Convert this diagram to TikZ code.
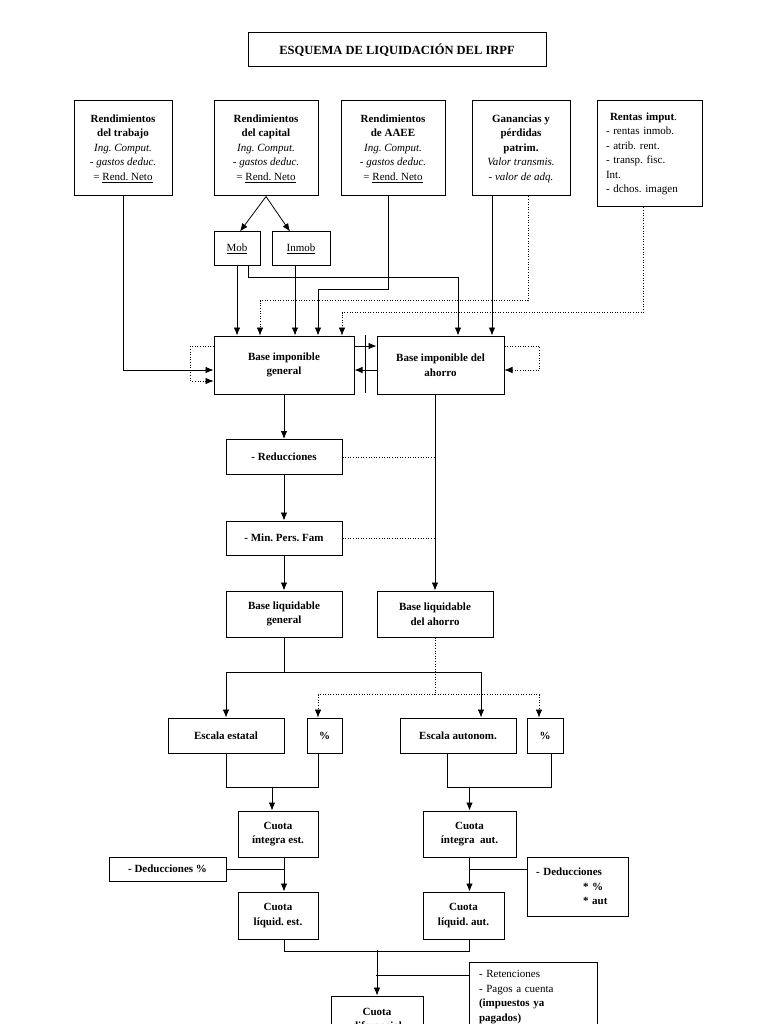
\documentclass[tikz,border=0pt]{standalone}
\usepackage{fontspec}
\setmainfont{Liberation Serif}
\usetikzlibrary{arrows.meta}
\usetikzlibrary{calc}
\frenchspacing
\tikzset{caja/.style = {draw, line width=1pt, align=center, inner sep=0, font=\fontsize{11}{14.5}\selectfont}}
\tikzset{cajab/.style = {caja, font=\fontsize{11}{14.5}\selectfont\bfseries}}
\tikzset{flecha/.style = {-{Latex[length=8pt,width=6.5pt]}}}
\tikzset{punteada/.style = {dotted, line width=0.6pt}}

\begin{document}
\begin{tikzpicture}[x=1pt, y=-1pt, line width=0.8pt]
      \useasboundingbox (0,0) rectangle (768,1024);
      \clip (0,0) rectangle (768,1024);

      \node [cajab, minimum width=298, minimum height=34, font=\fontsize{12.5}{15}\selectfont\bfseries] (titulo) at (397,50) {ESQUEMA DE LIQUIDACIÓN DEL IRPF};

      % fuentes de renta
      \node [caja, minimum width=98, minimum height=95] (trab) at (123,148.5) {\textbf{Rendimientos}\\\textbf{del trabajo}\\\textit{Ing. Comput.}\\\textit{- gastos deduc.}\\= \underline{Rend. Neto}};
      \node [caja, minimum width=104, minimum height=95] (cap) at (266,148.5) {\textbf{Rendimientos}\\\textbf{del capital}\\\textit{Ing. Comput.}\\\textit{- gastos deduc.}\\= \underline{Rend. Neto}};
      \node [caja, minimum width=104, minimum height=95] (aaee) at (393,148.5) {\textbf{Rendimientos}\\\textbf{de AAEE}\\\textit{Ing. Comput.}\\\textit{- gastos deduc.}\\= \underline{Rend. Neto}};
      \node [caja, minimum width=98, minimum height=95] (gan) at (521,148.5) {\textbf{Ganancias y}\\\textbf{pérdidas}\\\textbf{patrim.}\\\textit{Valor transmis.}\\\textit{- valor de adq.}};
      \node [caja, align=left, text width=87, inner xsep=9, minimum height=106] (rent) at (649.5,154) {\hspace*{4pt}\textbf{Rentas imput}.\\- rentas inmob.\\- atrib. rent.\\- transp. fisc.\\Int.\\- dchos. imagen};

      \node [caja, minimum width=46, minimum height=33] (mob) at (237,248.5) {\underline{Mob}};
      \node [caja, minimum width=58, minimum height=33] (inmob) at (301,248.5) {\underline{Inmob}};

      % bases
      \node [cajab, minimum width=140, minimum height=58] (big) at (284,365) {Base imponible\\general};
      \node [cajab, minimum width=127, minimum height=58] (bia) at (440.5,365) {Base imponible del\\ahorro};
      \node [cajab, minimum width=116, minimum height=35] (red) at (284,457) {- Reducciones};
      \node [cajab, minimum width=116, minimum height=34] (min) at (284,538) {- Min. Pers. Fam};
      \node [cajab, minimum width=116, minimum height=46] (blg) at (284,614) {Base liquidable\\general};
      \node [cajab, minimum width=116, minimum height=46] (bla) at (435,614) {Base liquidable\\del ahorro};

      % escalas y cuotas
      \node [cajab, minimum width=116, minimum height=35] (ee) at (226,735.5) {Escala estatal};
      \node [cajab, minimum width=35, minimum height=35] (p1) at (324.5,735.5) {\%};
      \node [cajab, minimum width=116, minimum height=35] (ea) at (458,735.5) {Escala autonom.};
      \node [cajab, minimum width=36, minimum height=35] (p2) at (545,735.5) {\%};
      \node [cajab, minimum width=80, minimum height=46] (cie) at (278,834) {Cuota\\íntegra est.};
      \node [cajab, minimum width=93, minimum height=46] (cia) at (469.5,834) {Cuota\\íntegra~~aut.};
      \node [cajab, minimum width=117, minimum height=24] (dede) at (167.5,869) {- Deducciones \%};
      \node [cajab, align=left, text width=83, inner xsep=9, minimum height=59] (deda) at (577.5,886.5) {- Deducciones\\\hspace*{47pt}* \%\\\hspace*{47pt}* aut};
      \node [cajab, minimum width=80, minimum height=47] (cle) at (278,915.5) {Cuota\\líquid. est.};
      \node [cajab, minimum width=81, minimum height=47] (cla) at (463.5,915.5) {Cuota\\líquid. aut.};
      \node [cajab, minimum width=92, minimum height=46] (cd) at (377,1019) {Cuota\\diferencial};
      \node [caja, align=left, text width=108, inner xsep=10, minimum height=70] (ret) at (533,997) {- Retenciones\\- Pagos a cuenta\\\textbf{(impuestos ya}\\\textbf{pagados)}};

      % hacia las bases imponibles
      \draw [flecha] (cap.south) -- ([xshift=3pt]mob.north);
      \draw [flecha] (cap.south) -- ([xshift=-11pt]inmob.north);
      \draw [flecha] (mob.south) -- (mob.south |- big.north);
      \draw [flecha] ([xshift=-6pt]inmob.south) -- ([xshift=-6pt]inmob.south |- big.north);
      \draw [flecha] ([xshift=-5pt]aaee.south) -- ++(0,93) -| ([xshift=34pt]big.north);
      \draw [flecha] ([xshift=11pt]mob.south) -- ++(0,12) -| ([xshift=17.5pt]bia.north);
      \draw [flecha] ([xshift=-29pt]gan.south) -- ([xshift=-29pt]gan.south |- bia.north);
      \draw [flecha, punteada] ([xshift=7pt]gan.south) -- ++(0,104) -| ([xshift=-24pt]big.north);
      \draw [flecha, punteada] ([xshift=-6.5pt]rent.south) -- ++(0,105) -| ([xshift=58pt]big.north);
      \draw [flecha] (trab.south) |- ([yshift=-5pt]big.west);

      \draw [flecha, punteada] ([yshift=19pt]big.west) -- ++(-23,0) |- ([yshift=-16pt]big.west);
      \draw [flecha, punteada] ([yshift=19pt]bia.east) -- ++(35,0) |- ([yshift=-5pt]bia.east);
      \draw [flecha] ([yshift=19pt]big.east) -- ([yshift=19pt]bia.west);
      \draw [flecha] ([yshift=-5pt]bia.west) -- ([yshift=-5pt]big.east);
      \draw ($(big.east)!0.5!(bia.west)$) ++(0,-30) -- ++(0,58);

      % bases liquidables
      \draw [flecha] (big.south) -- (red.north);
      \draw [flecha] (red.south) -- (min.north);
      \draw [flecha] (min.south) -- (blg.north);
      \draw [flecha] (bla.north |- bia.south) -- (bla.north);
      \draw [punteada] (red.east) -- (red.east -| bla.north);
      \draw [punteada] (min.east) -- (min.east -| bla.north);

      \draw (blg.south) -- ++(0,35) coordinate (rama);
      \draw [flecha] (rama) -| (ee.north);
      \draw [flecha] (rama) -| ([xshift=23pt]ea.north);
      \draw [punteada] (bla.south) -- ++(0,57) coordinate (rama2);
      \draw [flecha, punteada] (rama2) -| ([xshift=-6.5pt]p1.north);
      \draw [flecha, punteada] (rama2) -| ([xshift=-6pt]p2.north);

      % cuotas
      \draw (ee.south) -- ++(0,34) -| ([xshift=-6.5pt]p1.south);
      \draw [flecha] ([xshift=-6pt]cie.north) ++(0,-24) -- ([xshift=-6pt]cie.north);
      \draw ([xshift=-11pt]ea.south) -- ++(0,34) -| ([xshift=6pt]p2.south);
      \draw [flecha] (cia.north) ++(0,-24) -- (cia.north);

      \draw [flecha] ([xshift=6pt]cie.south) -- ([xshift=6pt]cie.south |- cle.north);
      \draw (dede.east) -- ++(58,0);
      \draw [flecha] (cia.south) -- (cia.south |- cla.north);
      \draw ([yshift=17.5pt]deda.west) -- ++(-58,0);

      \draw ([xshift=6pt]cle.south) -- ++(0,12) -| ([xshift=5.5pt]cla.south);
      \draw [flecha] (cd.north) ++(0,-46) -- (cd.north);
      \draw ([yshift=22pt]ret.west) -- ++(-93,0);
    \end{tikzpicture}
\end{document}
